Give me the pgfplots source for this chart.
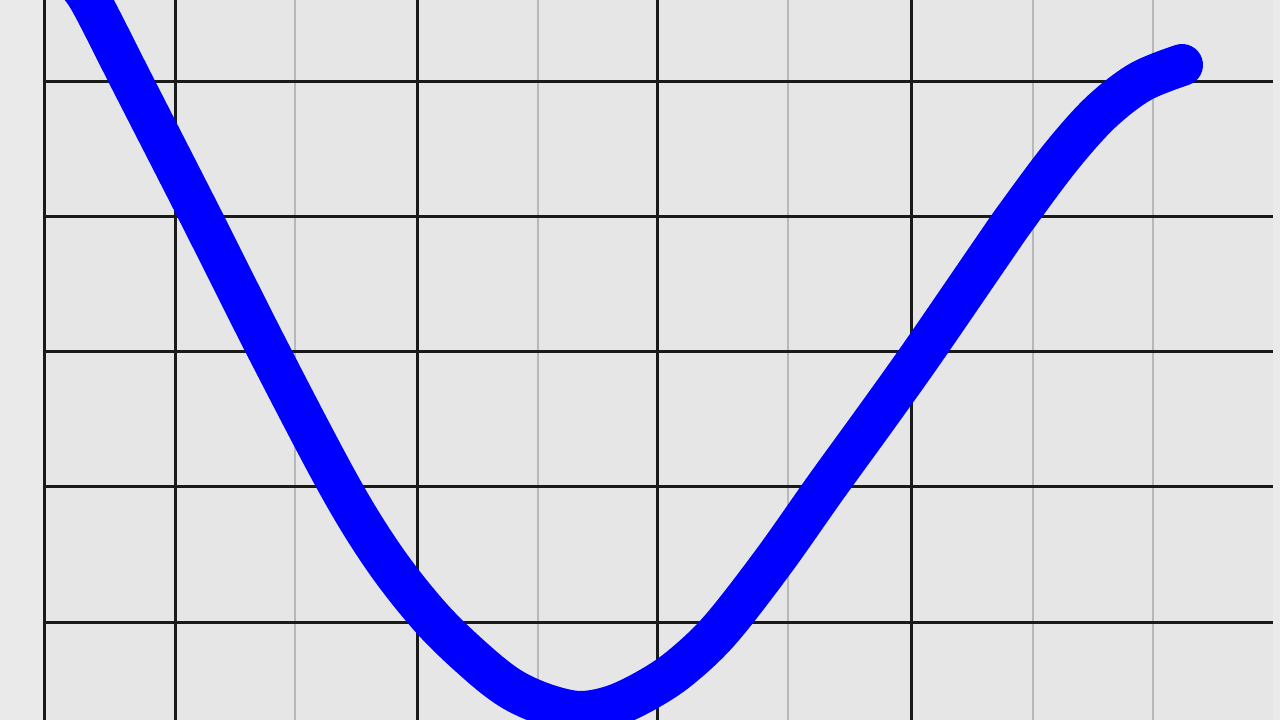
\documentclass[border=0pt]{standalone}
\usepackage{pgfplots}
\pgfplotsset{compat=1.18}
\definecolor{bgc}{HTML}{E6E6E6}
\definecolor{bgl}{HTML}{EAEAEA}
\definecolor{majc}{HTML}{1A1A1A}
\definecolor{minc}{HTML}{B8B8B8}
\definecolor{curve}{HTML}{0000FF}
\begin{document}
\begin{tikzpicture}
\fill[bgl] (-44pt,0pt) rectangle (1236pt,720pt);
\begin{axis}[
  anchor=south west, at={(0pt,0pt)},
  scale only axis, width=1229pt, height=720pt,
  xmin=44, xmax=1273, ymin=0, ymax=720,
  axis line style={draw=none},
  axis background/.style={fill=bgc},
  xtick={44,175,417,657,911},
  minor xtick={295,538,788,1033,1153},
  ytick={97,233,368,503,638},
  xticklabels={}, yticklabels={},
  major tick length=0pt, minor tick length=0pt,
  grid=both,
  major grid style={majc, line width=3pt},
  minor grid style={minc, line width=2pt},
]
\addplot[color=curve, line width=42pt, line cap=round, line join=round, smooth, tension=0.55] coordinates {
(74,740) (90,720) (132,638) (201,503) (269,368) (340,233) (386,159) (433,100)
(480,55) (513,30) (547,15) (580,8) (613,14) (647,30) (680,52) (720,90)
(773,158) (826,233) (876,302) (923,368) (993,470) (1016,503) (1060,562)
(1100,607) (1140,638) (1182,655)
};
\end{axis}
\pgfresetboundingbox
\useasboundingbox (-44pt,0pt) rectangle (1236pt,720pt);
\end{tikzpicture}
\end{document}
